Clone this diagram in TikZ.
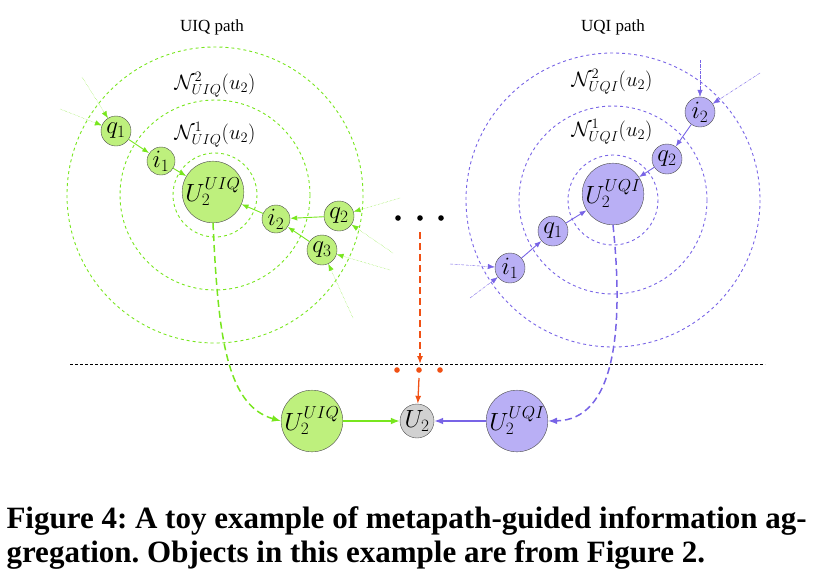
\documentclass[tikz,border=0pt]{standalone}
\usepackage{fontspec}
\setmainfont{Liberation Serif}
\frenchspacing
\usetikzlibrary{arrows.meta}
\definecolor{gline}{RGB}{120,230,30}
\definecolor{gfill}{RGB}{190,240,125}
\definecolor{pline}{RGB}{120,100,230}
\definecolor{pfill}{RGB}{185,175,245}
\definecolor{oline}{RGB}{240,80,20}
\tikzset{
  gnode/.style={circle, draw=black!70, fill=gfill, inner sep=0pt, minimum size=28pt, font=\fontsize{24}{26}\selectfont},
  pnode/.style={circle, draw=black!70, fill=pfill, inner sep=0pt, minimum size=28pt, font=\fontsize{24}{26}\selectfont},
  gring/.style={draw=gline, dashed, line width=0.9pt},
  pring/.style={draw=pline, dashed, line width=0.9pt},
  garrow/.style={draw=gline, line width=0.9pt, -{Latex[length=7pt]}},
  parrow/.style={draw=pline, line width=0.9pt, -{Latex[length=7pt]}},
  gin/.style={draw=gline, densely dotted, -{Latex[length=7pt]}},
  pin/.style={draw=pline, densely dash dot, -{Latex[length=7pt]}},
  nlabel/.style={font=\fontsize{22}{24}\selectfont},
}
\begin{document}
\begin{tikzpicture}[x=1pt, y=-1pt]
  \useasboundingbox (0,0) rectangle (826,582);

  % UIQ path
  \node[font=\fontsize{17}{18}\selectfont] at (212,27) {UIQ path};
  \foreach \r in {42,95,148} \draw[gring] (215,195) circle (\r);
  \node[nlabel] at (215,85) {$\mathcal{N}^2_{UIQ}(u_2)$};
  \node[nlabel] at (215,135) {$\mathcal{N}^1_{UIQ}(u_2)$};
  \node[gnode, minimum size=44pt] (uiq) at (213,192) {$U_2^{UIQ}$};
  \node[gnode, minimum size=30pt] (gq1) at (116,131) {$q_1$};
  \node[gnode] (gi1) at (161,161) {$i_1$};
  \node[gnode] (gi2) at (276,219) {$i_2$};
  \node[gnode, minimum size=30pt] (gq2) at (339,216) {$q_2$};
  \node[gnode, minimum size=30pt] (gq3) at (322,250) {$q_3$};
  \coordinate (ga) at (82,77);  \coordinate (gb) at (60,109);
  \coordinate (gc) at (400,198); \coordinate (gd) at (393,253);
  \coordinate (ge) at (390,270); \coordinate (gf) at (353,318);
  \path[garrow] (gq1) -- (gi1);
  \path[garrow] (gi1) -- (uiq);
  \path[garrow] (gi2) -- (uiq);
  \path[garrow] (gq2) -- (gi2);
  \path[garrow] (gq3) -- (gi2);
  \path[gin] (ga) -- (gq1);
  \path[gin] (gb) -- (gq1);
  \path[gin] (gc) -- (gq2);
  \path[gin] (gd) -- (gq2);
  \path[gin] (ge) -- (gq3);
  \path[gin] (gf) -- (gq3);

  % UQI path
  \node[font=\fontsize{17}{18}\selectfont] at (613,27) {UQI path};
  \foreach \r in {45,94,147} \draw[pring] (613,200) circle (\r);
  \node[nlabel] at (612,82) {$\mathcal{N}^2_{UQI}(u_2)$};
  \node[nlabel] at (612,132) {$\mathcal{N}^1_{UQI}(u_2)$};
  \node[pnode, minimum size=46pt] (uqi) at (613,194) {$U_2^{UQI}$};
  \node[pnode, minimum size=30pt] (pi2) at (700,112) {$i_2$};
  \node[pnode, minimum size=30pt] (pq2) at (667,159) {$q_2$};
  \node[pnode, minimum size=30pt] (pq1) at (553,231) {$q_1$};
  \node[pnode, minimum size=30pt] (pi1) at (510,268) {$i_1$};
  \coordinate (pa) at (700,60);  \coordinate (pb) at (760,73);
  \coordinate (pc) at (450,264); \coordinate (pd) at (470,298);
  \path[parrow] (pi2) -- (pq2);
  \path[parrow] (pq2) -- (uqi);
  \path[parrow] (pi1) -- (pq1);
  \path[parrow] (pq1) -- (uqi);
  \path[pin] (pa) -- (pi2);
  \path[pin] (pb) -- (pi2);
  \path[pin] (pc) -- (pi1);
  \path[pin] (pd) -- (pi1);

  % middle
  \foreach \x in {398,420,441} \fill (\x,218) circle (2.8);
  \coordinate (otop) at (420,232);
  \coordinate (omid) at (420,364);
  \draw[oline, dash pattern=on 7pt off 4pt, line width=1.3pt, -{Latex[length=8pt]}] (otop) -- (omid);
  \draw[densely dashed] (70,364) -- (765,364);
  \foreach \x in {397,419,440} \fill[oline] (\x,370) circle (2.8);

  % aggregation
  \node[gnode, minimum size=44pt] (buiq) at (312,421) {$U_2^{UIQ}$};
  \node[circle, draw=black!70, fill=black!18, inner sep=0pt, minimum size=34pt, font=\fontsize{24}{26}\selectfont] (u2) at (417,421) {$U_2$};
  \node[pnode, minimum size=44pt] (buqi) at (517,421) {$U_2^{UQI}$};
  \coordinate (obot) at (419,378);
  \draw[oline, line width=1.3pt, -{Latex[length=8pt]}] (obot) -- (u2);
  \draw[gline, line width=1.3pt, -{Latex[length=9pt]}] (buiq) -- (u2);
  \draw[pline, line width=1.3pt, -{Latex[length=9pt]}] (buqi) -- (u2);
  \draw[gline, dash pattern=on 7pt off 4pt, line width=1.5pt, -{Latex[length=9pt]}] (uiq.south) .. controls (218,330) and (225,405) .. (buiq.west);
  \draw[pline, dash pattern=on 7pt off 4pt, line width=1.5pt, -{Latex[length=9pt]}] (uqi.south) .. controls (624,330) and (615,420) .. (buqi.east);

  % caption
  \node[anchor=west, font=\fontsize{31}{34}\selectfont\bfseries] (cap1) at (3,521) {Figure 4: A toy example of metapath-guided information ag-};
  \node[anchor=west, font=\fontsize{31}{34}\selectfont\bfseries] (cap2) at (3,555) {gregation. Objects in this example are from Figure 2.};
\end{tikzpicture}
\end{document}
